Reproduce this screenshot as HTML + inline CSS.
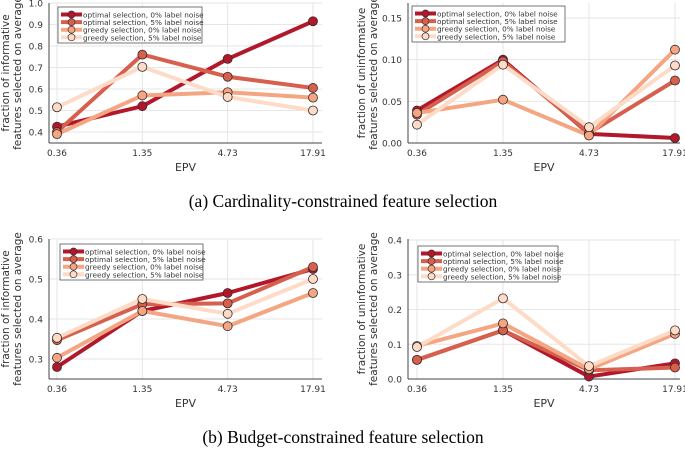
<!DOCTYPE html>
<html><head><meta charset="utf-8"><style>
body{margin:0;background:#fff;width:685px;height:449px;overflow:hidden}
svg text{font-family:"DejaVu Sans","Liberation Sans",sans-serif}
.cap{font-family:"Liberation Serif",serif;font-size:17.5px}
</style></head><body>
<svg id="s" width="685" height="449">
<text class="cap" x="343" y="207" text-anchor="middle">(a) Cardinality-constrained feature selection</text>
<text class="cap" x="343" y="443" text-anchor="middle">(b) Budget-constrained feature selection</text>
</svg>
<script>
const categories=["0.36","1.35","4.73","17.91"];
const seriesNames=["optimal selection, 0% label noise","optimal selection, 5% label noise","greedy selection, 0% label noise","greedy selection, 5% label noise"];
const aOpt0=[0.425,0.52,0.74,0.915],aOpt5=[0.40,0.76,0.657,0.605],aGr0=[0.39,0.57,0.585,0.56],aGr5=[0.515,0.703,0.563,0.50];
const bOpt0=[0.039,0.100,0.011,0.006],bOpt5=[0.034,0.098,0.012,0.075],bGr0=[0.036,0.052,0.009,0.112],bGr5=[0.022,0.094,0.019,0.093];
const cOpt0=[0.28,0.42,0.465,0.525],cOpt5=[0.347,0.437,0.439,0.53],cGr0=[0.303,0.42,0.382,0.465],cGr5=[0.353,0.45,0.413,0.50];
const dOpt0=[0.055,0.14,0.007,0.045],dOpt5=[0.055,0.14,0.025,0.033],dGr0=[0.095,0.16,0.028,0.13],dGr5=[0.092,0.232,0.037,0.14];
const ticksA=["0.4","0.5","0.6","0.7","0.8","0.9","1.0"],ticksB=["0.00","0.05","0.10","0.15"],ticksC=["0.3","0.4","0.5","0.6"],ticksD=["0.0","0.1","0.2","0.3","0.4"];
const colors=["#b2182b","#d6604d","#f4a582","#fddbc7"];
const NS="http://www.w3.org/2000/svg",S=document.getElementById('s');
function el(t,a,p){const e=document.createElementNS(NS,t);for(const k in a)e.setAttribute(k,a[k]);(p||S).appendChild(e);return e;}
function panel(o){
 const g=el('g',{});
 
 
 const X=i=>o.x0+(o.x1-o.x0)*i/3;
 const Y=v=>o.yb+(o.yt-o.yb)*(v-o.v0)/(o.v1-o.v0);
 o.ticks.forEach(t=>{const y=Y(+t);
  const gl=el('line',{x1:o.ax,x2:o.ar,y1:y,y2:y,stroke:'#e6e6e6','stroke-width':1},g);
  
  const tx=el('text',{x:o.ax-6,y:y+3.5,'font-size':9,'text-anchor':'end',fill:'#333'},g);tx.textContent=t;
  });
 categories.forEach((c,i)=>{const x=X(i);
  el('line',{x1:x,x2:x,y1:o.top,y2:o.bot,stroke:'#e6e6e6','stroke-width':1},g);
  const tx=el('text',{x:x,y:o.bot+13,'font-size':9,'text-anchor':'middle',fill:'#333'},g);tx.textContent=c;
  });
 el('line',{x1:o.ax,x2:o.ax,y1:o.top,y2:o.bot,stroke:'#444','stroke-width':1},g);
 el('line',{x1:o.ax,x2:o.ar,y1:o.bot,y2:o.bot,stroke:'#444','stroke-width':1},g);
 const xl=el('text',{x:(o.ax+o.ar)/2,y:o.bot+28,'font-size':11,'text-anchor':'middle',fill:'#333'},g);xl.textContent='EPV';
 
 const cy=(o.top+o.bot)/2;
 const yl=el('text',{transform:`translate(${o.ax-o.tOff},${cy}) rotate(-90)`,'font-size':10.5,'text-anchor':'middle',fill:'#333'},g);
 
 const t1=el('tspan',{x:0,dy:-4},yl);t1.textContent=o.ylab;
 const t2=el('tspan',{x:0,dy:12},yl);t2.textContent='features selected on average';
 o.series.forEach((d,s)=>{
  const pl=el('polyline',{points:d.map((v,i)=>X(i)+','+Y(v)).join(' '),fill:'none',stroke:colors[s],'stroke-width':4,'stroke-linejoin':'round'},g);
  
 });
 o.series.forEach((d,s)=>d.forEach((v,i)=>{
  const c=el('circle',{cx:X(i),cy:Y(v),r:4.5,fill:colors[s],stroke:'#3a2a2a','stroke-width':0.8},g);
  }));
 const lg=el('g',{},g);
 
 el('rect',{x:o.lx,y:o.ly,width:o.lw,height:36,fill:'#fff',stroke:'#555','stroke-width':0.8},lg);
 seriesNames.forEach((n,s)=>{const y=o.ly+7.5+s*7.6;
  el('line',{x1:o.lx+3,x2:o.lx+24,y1:y,y2:y,stroke:colors[s],'stroke-width':4},lg);
  el('circle',{cx:o.lx+13.5,cy:y,r:3.5,fill:colors[s],stroke:'#3a2a2a','stroke-width':0.7},lg);
  const t=el('text',{x:o.lx+25,y:y+3,'font-size':7.3,fill:'#333'},lg);t.textContent=n;
  });
}
panel({name:'chart-a-informative',x0:57,x1:313,ax:49,ar:322,top:3,bot:143,yb:132,yt:3,v0:0.4,v1:1.0,ticks:ticksA,series:[aOpt0,aOpt5,aGr0,aGr5],lx:58,ly:7,lw:144,tOff:36,ylab:'fraction of informative'});
panel({name:'chart-a-uninformative',x0:417,x1:675,ax:408,ar:680,top:3,bot:143,yb:143,yt:18,v0:0,v1:0.15,ticks:ticksB,series:[bOpt0,bOpt5,bGr0,bGr5],lx:412,ly:6,lw:153,tOff:39,ylab:'fraction of uninformative'});
panel({name:'chart-b-informative',x0:57,x1:313,ax:49,ar:322,top:239,bot:379,yb:359,yt:239,v0:0.3,v1:0.6,ticks:ticksC,series:[cOpt0,cOpt5,cGr0,cGr5],lx:60,ly:244,lw:143,tOff:36,ylab:'fraction of informative'});
panel({name:'chart-b-uninformative',x0:417,x1:675,ax:408,ar:680,top:239,bot:379,yb:379,yt:240,v0:0,v1:0.4,ticks:ticksD,series:[dOpt0,dOpt5,dGr0,dGr5],lx:418,ly:246,lw:140,tOff:39,ylab:'fraction of uninformative'});
</script>
</body></html>
